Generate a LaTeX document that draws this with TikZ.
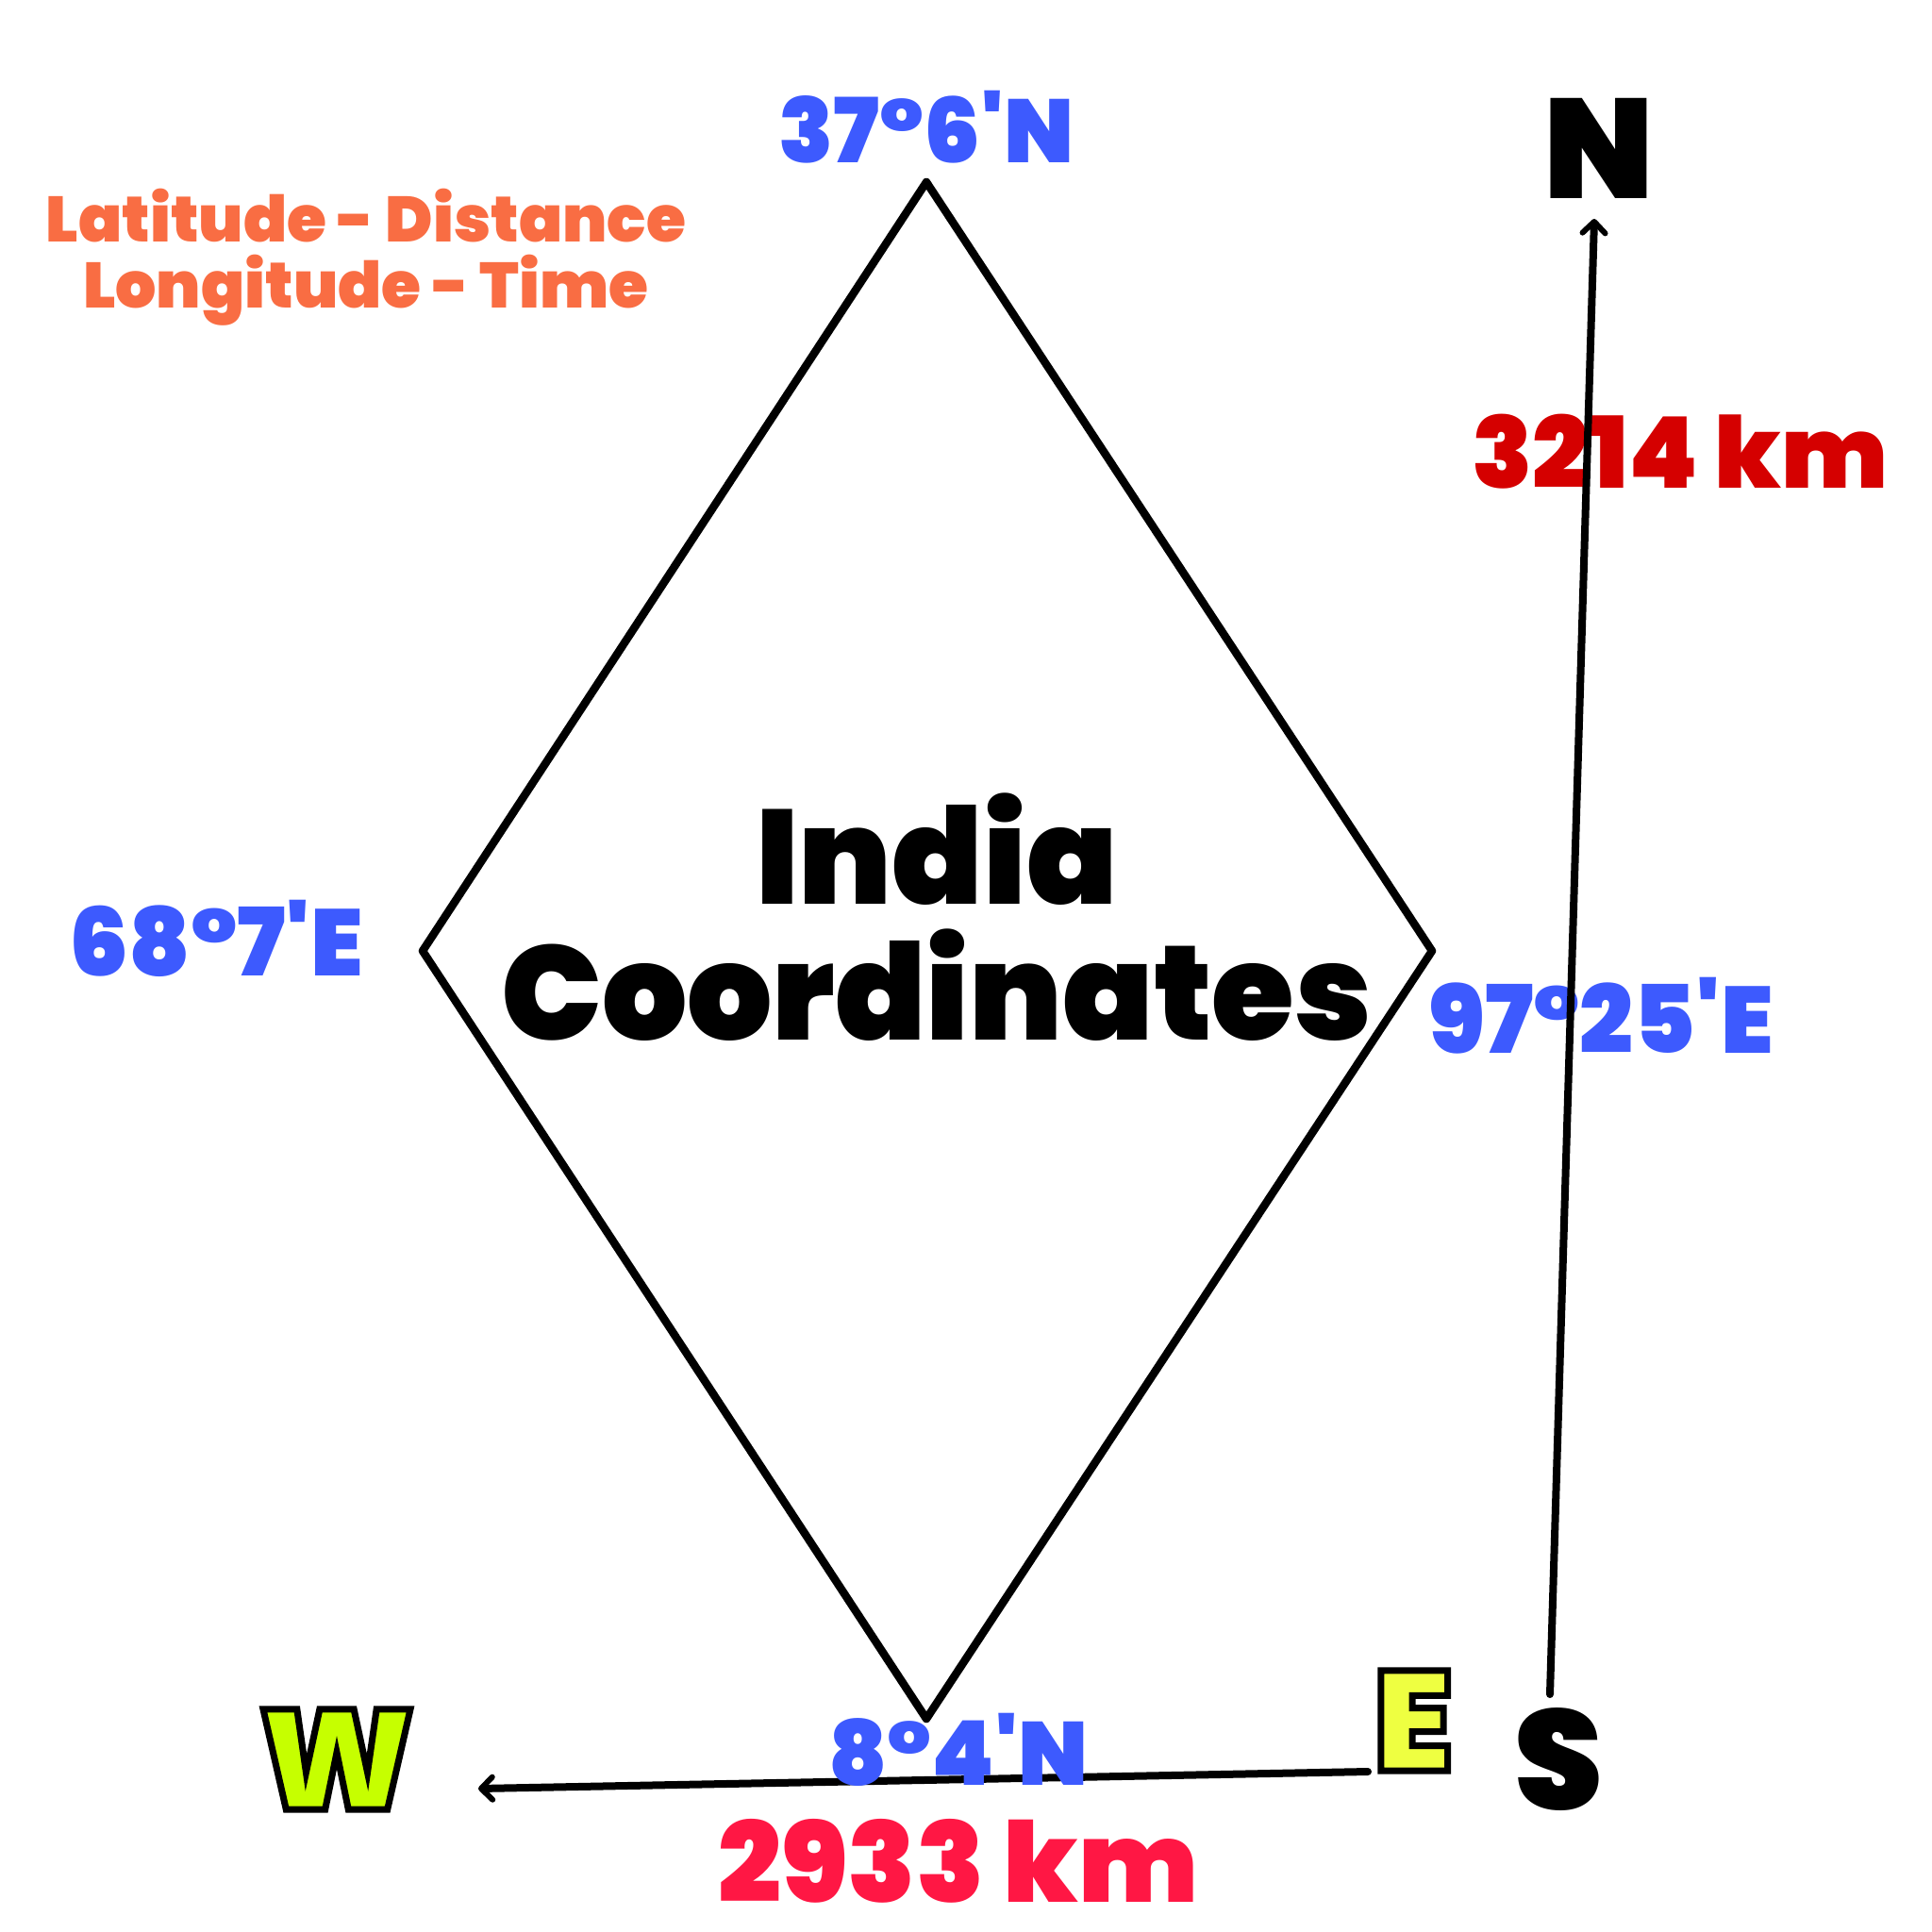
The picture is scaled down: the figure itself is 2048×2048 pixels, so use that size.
\documentclass[tikz,border=0pt]{standalone}
\usepackage{fontspec}
\setmainfont{Poppins}[UprightFont=* Black,BoldFont=* Black]
\usetikzlibrary{arrows.meta}

\definecolor{coordblue}{HTML}{3D5AFE}
\definecolor{ruleorange}{HTML}{F96D43}
\definecolor{kmred}{HTML}{D50000}
\definecolor{kmcrimson}{HTML}{FF1744}
\definecolor{westlime}{HTML}{C6FF00}
\definecolor{eastlime}{HTML}{EEFF41}

% outlined letters (fill + stroke)
\newcommand{\outlined}[1]{\special{pdf:code 2 Tr 0 G 7 w}#1\special{pdf:code 0 Tr}}
\newcommand{\mins}{\textquotesingle}

\tikzset{
  coord/.style={text=coordblue, inner sep=0pt, font=\fontsize{95}{100}\selectfont},
  dirletter/.style={inner sep=0pt, font=\fontsize{150}{160}\selectfont},
  distlabel/.style={inner sep=0pt, font=\fontsize{105}{110}\selectfont},
  compass/.style={line width=8pt, line cap=round,
    -{Straight Barb[length=12pt,width=24pt,line width=6pt,round]}}
}

\begin{document}
\begin{tikzpicture}[x=1pt, y=-1pt]
  \useasboundingbox (0,0) rectangle (2048,2048);

  \coordinate (s-foot) at (1643,1796);
  \coordinate (n-tip) at (1690,232);
  \coordinate (e-foot) at (1450,1878);
  \coordinate (w-tip) at (507,1896);
  \draw[compass] (e-foot) -- (w-tip);

  \node[text=ruleorange, inner sep=0pt, align=center,
        font=\fontsize{68}{70}\selectfont] (rules) at (388,273)
        {Latitude - Distance\\Longitude - Time};
  \node[align=center, inner sep=0pt, font=\fontsize{142}{144}\selectfont] (india) at (993,972)
        {India\\Coordinates};

  \node[coord] (lat-n) at (982,135) {37°6\mins N};
  \node[coord] (lat-s) at (1016,1855) {8°4\mins N};
  \node[coord, font=\fontsize{100}{100}\selectfont] (lon-w) at (229,995) {68°7\mins E};
  \node[coord, font=\fontsize{100}{100}\selectfont] (lon-e) at (1697,1077) {97°25\mins E};

  \node[dirletter] (N) at (1695,157) {N};
  \node[dirletter] (S) at (1652,1865) {S};
  \node[dirletter, text=westlime] (W) at (357,1865) {\outlined{W}};
  \node[dirletter, text=eastlime] (E) at (1498,1824) {\outlined{E}};

  \node[distlabel, text=kmred] (ns-km) at (1781,479) {3214 km};
  \node[distlabel, text=kmcrimson, text depth=0pt,
        font=\fontsize{118}{120}\selectfont] (we-km) at (1016,1972) {2933 km};

  % the diamond
  \draw[line width=8.5pt, line join=round]
    (982,193) coordinate (top) -- (1518,1008) coordinate (right)
    -- (982,1822) coordinate (bottom) -- (448,1008) coordinate (left) -- cycle;

  \draw[compass] (s-foot) -- (n-tip);
\end{tikzpicture}
\end{document}
